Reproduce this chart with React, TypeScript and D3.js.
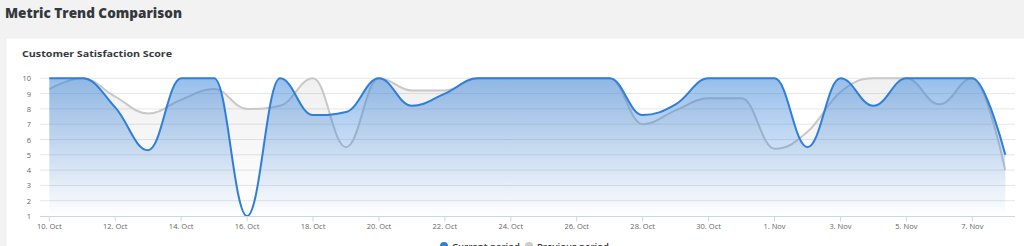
import React from "react";
import * as d3 from "d3";

const dates = [
  "2023-10-10","2023-10-11","2023-10-12","2023-10-13","2023-10-14","2023-10-15","2023-10-16","2023-10-17","2023-10-18","2023-10-19",
  "2023-10-20","2023-10-21","2023-10-22","2023-10-23","2023-10-24","2023-10-25","2023-10-26","2023-10-27","2023-10-28","2023-10-29",
  "2023-10-30","2023-10-31","2023-11-01","2023-11-02","2023-11-03","2023-11-04","2023-11-05","2023-11-06","2023-11-07","2023-11-08",
];
const currentPeriod = [10, 10, 8.1, 5.3, 10, 10, 1, 10, 7.6, 7.8, 10, 8.2, 9, 10, 10, 10, 10, 10, 7.6, 8.3, 10, 10, 10, 5.5, 10, 8.2, 10, 10, 10, 5];
const previousPeriod = [9.3, 10, 8.8, 7.7, 8.6, 9.3, 8, 8.2, 10, 5.5, 10, 9.2, 9.2, 10, 10, 10, 10, 10, 7, 7.9, 8.7, 8.7, 5.4, 6.5, 9.1, 10, 10, 8.3, 10, 4];
const yTicks = [1, 2, 3, 4, 5, 6, 7, 8, 9, 10];
const seriesNames = ["Current period", "Previous period"];

// Highcharts-like spline curve
class HCSpline {
  _context: any;
  _line: number = NaN;
  _pts: number[][] = [];
  constructor(context: any) { this._context = context; }
  areaStart() { this._line = 0; }
  areaEnd() { this._line = NaN; }
  lineStart() { this._pts = []; }
  point(x: number, y: number) { this._pts.push([+x, +y]); }
  lineEnd() {
    const p = this._pts, c = this._context, n = p.length;
    if (n) {
      if (this._line) c.lineTo(p[0][0], p[0][1]); else c.moveTo(p[0][0], p[0][1]);
      const sm = 1.5, den = sm + 1;
      const ctrl = p.map((pt, i) => {
        if (i === 0 || i === n - 1) return { lx: pt[0], ly: pt[1], rx: pt[0], ry: pt[1] };
        const [px, py] = pt, [ax, ay] = p[i - 1], [bx, by] = p[i + 1];
        const lx = (sm * px + ax) / den;
        let ly = (sm * py + ay) / den;
        const rx = (sm * px + bx) / den;
        let ry = (sm * py + by) / den;
        let corr = 0;
        if (rx !== lx) corr = ((ry - ly) * (rx - px)) / (rx - lx) + py - ry;
        ly += corr; ry += corr;
        if (ly > ay && ly > py) { ly = Math.max(ay, py); ry = 2 * py - ly; }
        else if (ly < ay && ly < py) { ly = Math.min(ay, py); ry = 2 * py - ly; }
        if (ry > by && ry > py) { ry = Math.max(by, py); ly = 2 * py - ry; }
        else if (ry < by && ry < py) { ry = Math.min(by, py); ly = 2 * py - ry; }
        return { lx, ly, rx, ry };
      });
      for (let i = 1; i < n; i++) {
        c.bezierCurveTo(ctrl[i - 1].rx, ctrl[i - 1].ry, ctrl[i].lx, ctrl[i].ly, p[i][0], p[i][1]);
      }
    }
    if (this._line || (this._line !== 0 && n === 1)) c.closePath();
    this._line = 1 - this._line;
  }
}
const curveHC: any = (ctx: any) => new HCSpline(ctx);

export default function App() {
  const W = 1024, H = 246;
  const parsed = dates.map((d) => new Date(d + "T00:00:00Z"));
  const x = d3.scaleUtc().domain([parsed[0], parsed[parsed.length - 1]]).range([49.3, 1005.3]);
  const y = d3.scaleLinear().domain([1, 10]).range([216, 78.3]);
  const gridX0 = 40, gridX1 = 1015;
  const fmt = d3.utcFormat("%-d. %b");
  const xTicks = parsed.filter((_, i) => i % 2 === 0);

  const mk = (vals: number[]) => vals.map((v, i) => ({ d: parsed[i], v }));
  const cur = mk(currentPeriod), prev = mk(previousPeriod);
  const line = d3.line<any>().x((p) => x(p.d)).y((p) => y(p.v)).curve(curveHC);
  const area = d3.area<any>().x((p) => x(p.d)).y0(y(1)).y1((p) => y(p.v)).curve(curveHC);

  const blue = "#2f7ed8";
  const grey = "#c8c8c8";

  return (
    <svg width={W} height={H} style={{ position: "absolute", left: 0, top: 0, display: "block" }}>
      <defs>
        <linearGradient id="gBlue" x1="0" y1="0" x2="0" y2="1">
          <stop offset="0" stopColor={blue} stopOpacity={0.5} />
          <stop offset="1" stopColor={blue} stopOpacity={0} />
        </linearGradient>
        <linearGradient id="gGrey" x1="0" y1="0" x2="0" y2="1">
          <stop offset="0" stopColor="#000" stopOpacity={0.06} />
          <stop offset="1" stopColor="#000" stopOpacity={0} />
        </linearGradient>
      </defs>
      <rect x={0} y={0} width={W} height={H} fill="#f2f2f2" />
      <text x={5} y={17.5} fontFamily="Open Sans" fontWeight={800} fontSize={14} fill="#33383d" textLength={177} lengthAdjust="spacingAndGlyphs">Metric Trend Comparison</text>
      <rect x={6} y={38} width={1040} height={230} fill="#ffffff" stroke="#e6e6e6" strokeWidth={0.6} />
      <text x={22} y={57.3} fontFamily="Open Sans" fontWeight={700} fontSize={9.5} fill="#33383d" textLength={150} lengthAdjust="spacingAndGlyphs">Customer Satisfaction Score</text>

      {yTicks.map((t) => (
        <g key={t}>
          {t > 1 && <line x1={gridX0} x2={gridX1} y1={y(t)} y2={y(t)} stroke="#e6e6e6" strokeWidth={1} />}
          <text x={31} y={y(t) + 3} textAnchor="end" fontFamily="Open Sans" fontSize={7.5} fill="#666">{t}</text>
        </g>
      ))}

      <path d={area(prev) || ""} fill="url(#gGrey)" />
      <path d={line(prev) || ""} fill="none" stroke={grey} strokeWidth={2} />
      <path d={area(cur) || ""} fill="url(#gBlue)" />
      <path d={line(cur) || ""} fill="none" stroke={blue} strokeWidth={2} />

      <line x1={gridX0} x2={gridX1} y1={y(1) + 0.5} y2={y(1) + 0.5} stroke="#ccd6eb" strokeWidth={1} />
      {xTicks.map((t, i) => (
        <g key={i}>
          <line x1={x(t)} x2={x(t)} y1={y(1)} y2={y(1) + 5.5} stroke="#ccd6eb" strokeWidth={1} />
          <text x={x(t)} y={228.5} textAnchor="middle" fontFamily="Open Sans" fontSize={7.5} fill="#666">{fmt(t)}</text>
        </g>
      ))}

      <circle cx={444} cy={246} r={4} fill={blue} />
      <text x={452} y={250} fontFamily="Open Sans" fontWeight={600} fontSize={9.5} fill="#333">{seriesNames[0]}</text>
      <circle cx={529} cy={246} r={4} fill="#cccccc" />
      <text x={537} y={250} fontFamily="Open Sans" fontWeight={600} fontSize={9.5} fill="#333">{seriesNames[1]}</text>
    </svg>
  );
}
